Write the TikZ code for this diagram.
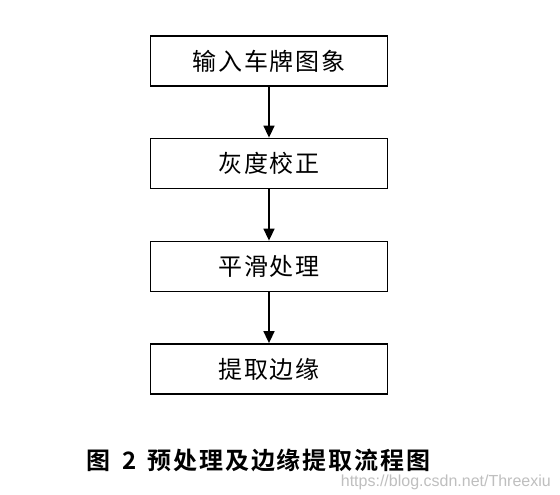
\documentclass[tikz,border=0pt]{standalone}
\usepackage{fontspec}
\usetikzlibrary{arrows.meta}
\newfontfamily\cjk[LetterSpace=8]{Noto Sans CJK SC}
\newfontfamily\cjkbold[LetterSpace=8]{Noto Sans CJK SC Bold}
\newfontfamily\wmfont{Liberation Sans}
\tikzset{
  procbox/.style={draw=black, line width=1.8pt, minimum width=237pt, minimum height=50pt, inner sep=0pt, font=\cjk\fontsize{24pt}{28pt}\selectfont},
  flowarrow/.style={line width=1.6pt, -{Triangle[width=11pt,length=12pt]}}
}
\begin{document}
\begin{tikzpicture}[x=1pt,y=-1pt]
\useasboundingbox[fill=white] (0,0) rectangle (560,495);
\node[procbox] (b1) at (269,61) {输入车牌图象};
\node[procbox] (b2) at (269,163.5) {灰度校正};
\node[procbox] (b3) at (269,266.5) {平滑处理};
\node[procbox] (b4) at (269,369) {提取边缘};
\draw[flowarrow] (b1) -- (b2);
\draw[flowarrow] (b2) -- (b3);
\draw[flowarrow] (b3) -- (b4);
\node[anchor=west, inner sep=0pt, font=\cjkbold\fontsize{24pt}{28pt}\selectfont] (cap) at (86,460) {图\hspace{12pt}2\hspace{11pt}预处理及边缘提取流程图};
\node[anchor=east, inner sep=0pt, text=black!25, font=\wmfont\fontsize{16pt}{18pt}\selectfont] (wm) at (551,482) {https://blog.csdn.net/Threexiu};
\end{tikzpicture}
\end{document}
